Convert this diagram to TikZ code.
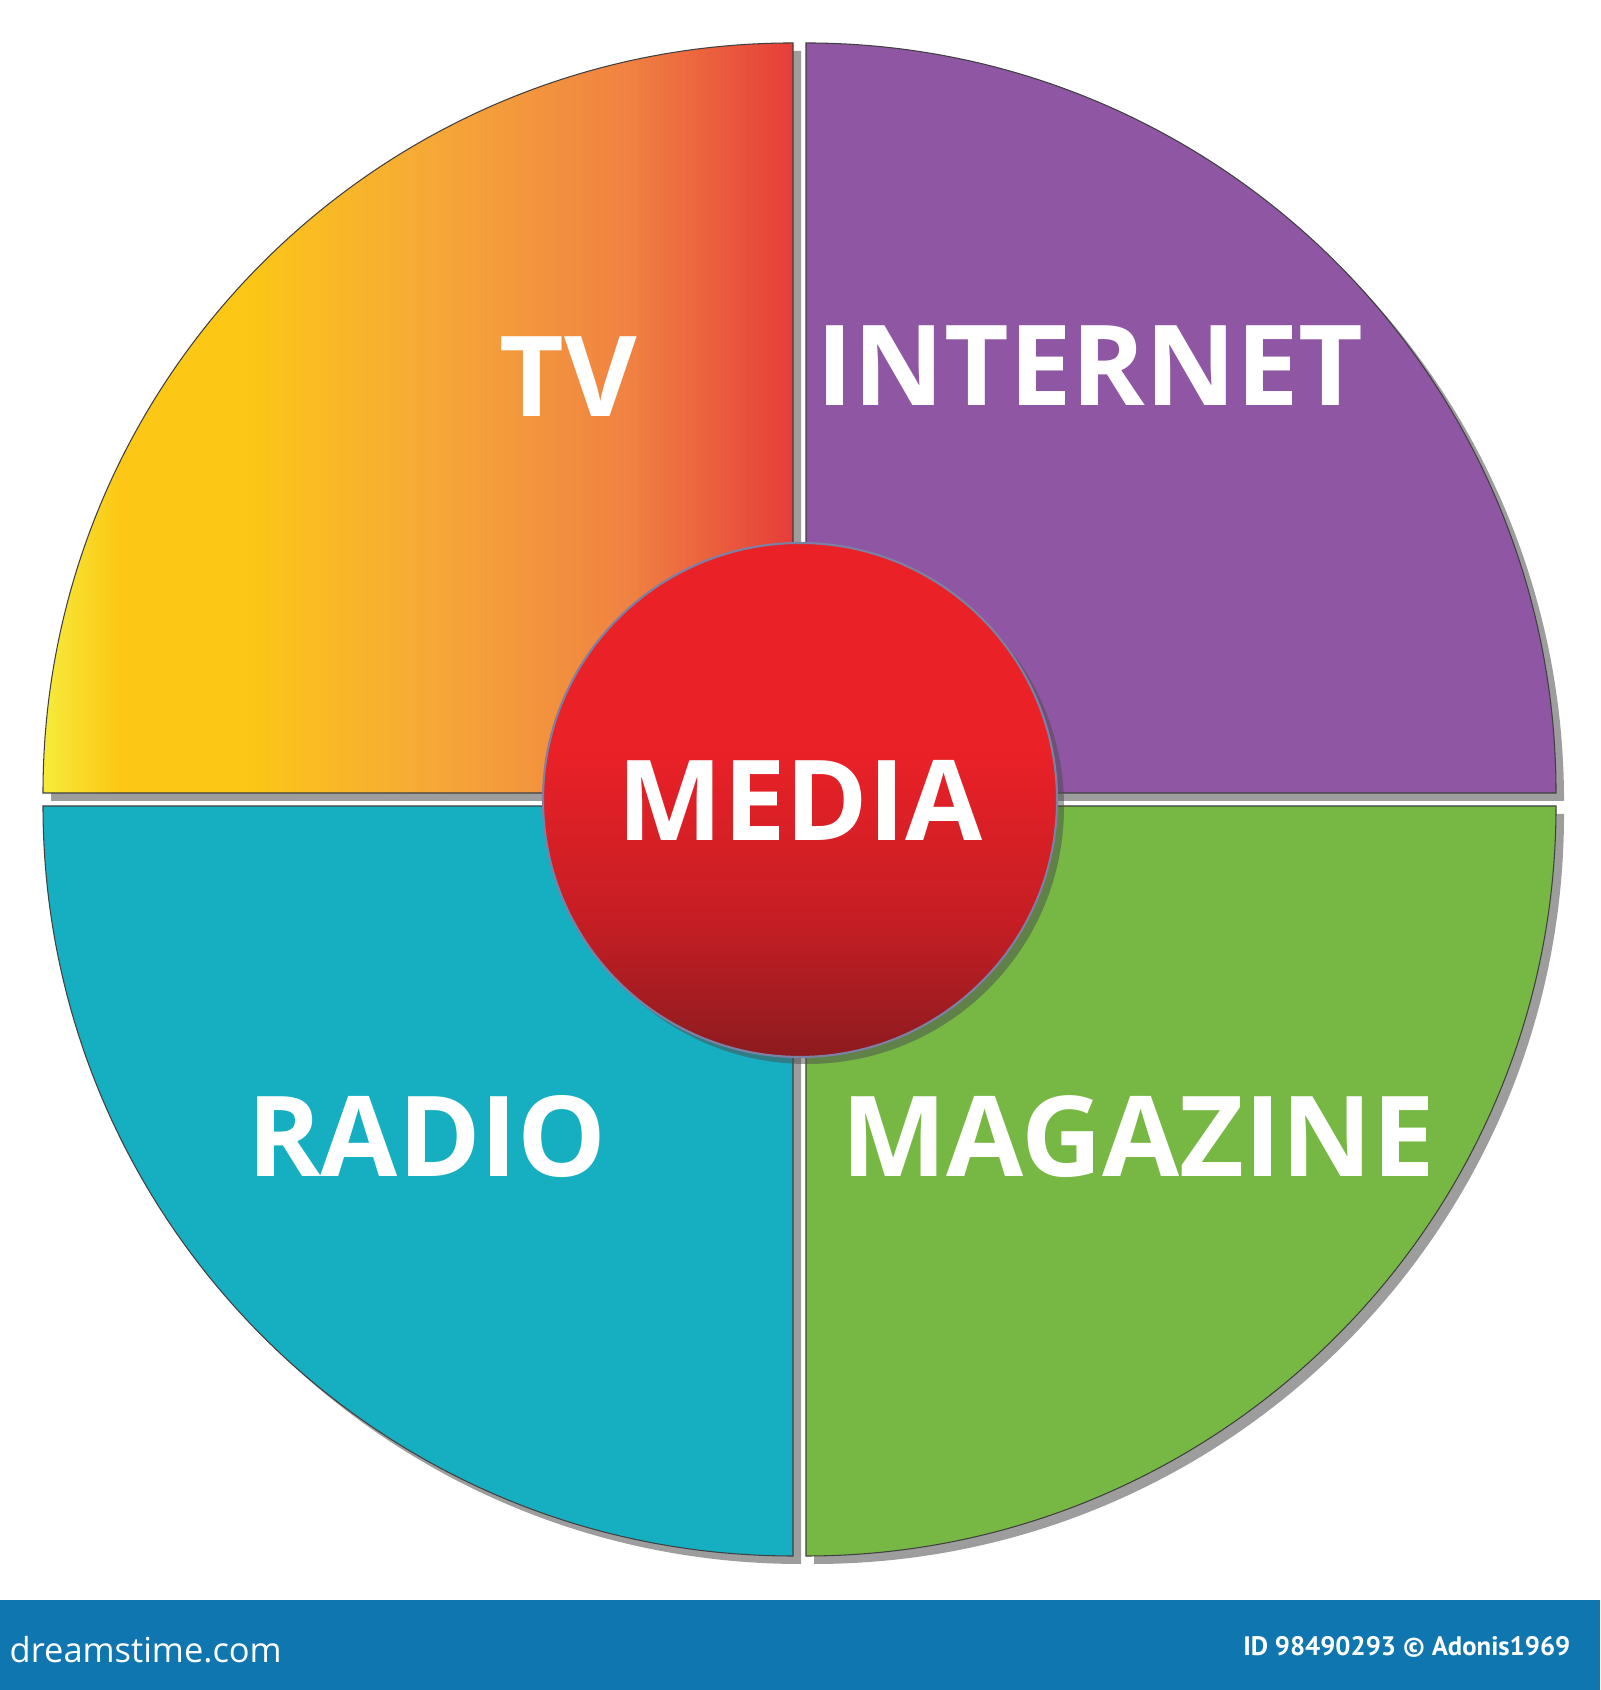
\documentclass[tikz,border=0pt]{standalone}
\usepackage{fontspec}
\setmainfont{Open Sans}
\newfontfamily\bannerfont{PT Sans}
\usetikzlibrary{shadows}

\definecolor{tvyellow}{RGB}{246,235,59}
\definecolor{tvgold}{RGB}{252,200,21}
\definecolor{tvorange}{RGB}{246,168,56}
\definecolor{tvcoral}{RGB}{240,130,66}
\definecolor{tvred}{RGB}{230,61,57}
\definecolor{netpurple}{RGB}{142,86,163}
\definecolor{radioteal}{RGB}{22,175,193}
\definecolor{maggreen}{RGB}{118,184,67}
\definecolor{mediabright}{RGB}{234,33,39}
\definecolor{mediamid}{RGB}{196,30,36}
\definecolor{mediadark}{RGB}{140,27,31}
\definecolor{mediaedge}{RGB}{125,128,165}
\definecolor{bannerblue}{RGB}{16,118,175}

\pgfdeclarehorizontalshading{tvshade}{100bp}{color(0bp)=(tvyellow); color(25bp)=(tvyellow); color(30bp)=(tvgold); color(38bp)=(tvgold); color(51bp)=(tvorange); color(64bp)=(tvcoral); color(75bp)=(tvred); color(100bp)=(tvred)}
\pgfdeclareverticalshading{mediashade}{100bp}{color(0bp)=(mediadark); color(25bp)=(mediadark); color(38bp)=(mediamid); color(55bp)=(mediabright); color(100bp)=(mediabright)}

\begin{document}
\begin{tikzpicture}[
  quarter/.style={draw=black!75, line width=0.3pt,
    drop shadow={opacity=0.55, fill=black!70, shadow xshift=0.08cm, shadow yshift=-0.08cm}},
  sectortext/.style={text=white, inner sep=0pt,
    font=\bfseries\fontsize{31.8}{32}\selectfont}]
  \useasboundingbox (0,0) rectangle (16,16.9);

  \coordinate (TL) at (7.93,8.97);
  \coordinate (TR) at (8.06,8.97);
  \coordinate (BL) at (7.93,8.84);
  \coordinate (BR) at (8.06,8.84);

  % four quarters
  \path[quarter, shading=tvshade] (TL) -- (0.43,8.97) arc (180:90:7.5) -- cycle;
  \path[quarter, fill=netpurple] (TR) -- (8.06,16.47) arc (90:0:7.5) -- cycle;
  \path[quarter, fill=radioteal] (BL) -- (0.43,8.84) arc (180:270:7.5) -- cycle;
  \path[quarter, fill=maggreen] (BR) -- (15.56,8.84) arc (0:-90:7.5) -- cycle;

  \node[sectortext] (tv) at (5.68,13.13) {TV};
  \node[sectortext] (internet) at (10.90,13.24) {INTERNET};
  \node[sectortext] (radio) at (4.27,5.53) {RADIO};
  \node[sectortext] (magazine) at (11.38,5.53) {MAGAZINE};

  % centre disc
  \node[sectortext, circle, minimum size=5.14cm, shading=mediashade,
    draw=mediaedge, line width=0.6pt,
    drop shadow={opacity=0.5, fill=black!70, shadow xshift=0.07cm, shadow yshift=-0.07cm}]
    (media) at (8.00,8.90) {MEDIA};

  % banner
  \fill[bannerblue] (0,0) rectangle (16,0.9);
  \node[anchor=west, text=white, inner sep=0pt, font=\fontsize{9.8}{10}\selectfont]
    (site) at (0.09,0.40) {dreamstime.com};
  \node[anchor=east, text=white, inner sep=0pt, font=\bannerfont\bfseries\fontsize{7.6}{8}\selectfont]
    (credit) at (15.71,0.43) {ID 98490293 © Adonis1969};
\end{tikzpicture}
\end{document}
